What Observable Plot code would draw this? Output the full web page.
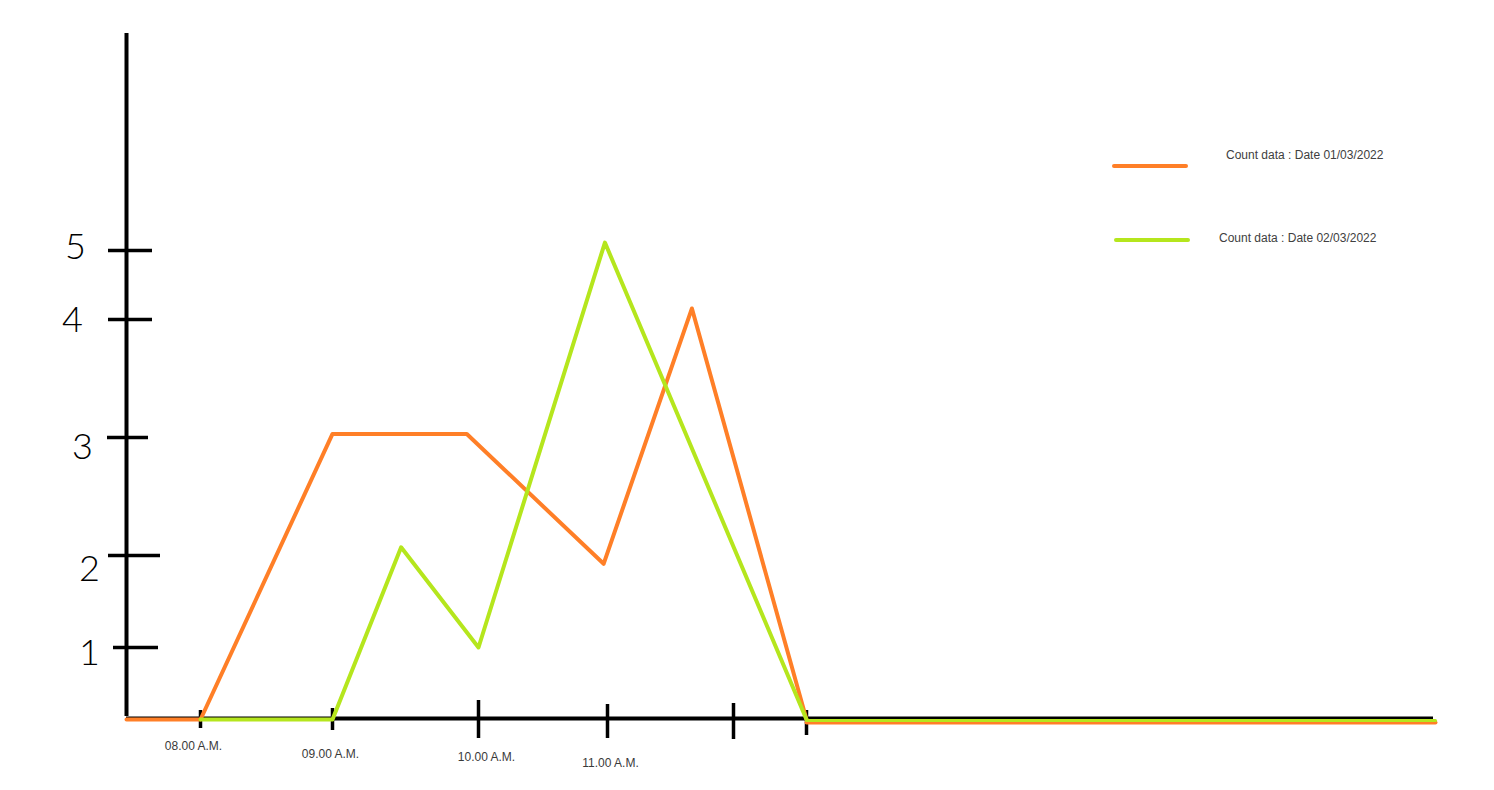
<!DOCTYPE html>
<html><head><meta charset="utf-8">
<script src="https://cdn.jsdelivr.net/npm/d3@7"></script>
<script src="https://cdn.jsdelivr.net/npm/@observablehq/plot@0.6"></script>
<style>
body{margin:0;background:#fff;overflow:hidden}
#wrap{position:relative;width:1494px;height:790px}
#chart svg{display:block}
.leg{position:absolute;font:12px "Liberation Sans",Arial,sans-serif;color:#404040;white-space:nowrap}
.sw{position:absolute;height:4px;border-radius:2px;width:76px}
</style></head><body>
<div id="wrap"><div id="chart"></div><div id="legend"></div></div>
<script>
// ---- data ----
const seriesNames = ["Count data : Date 01/03/2022", "Count data : Date 02/03/2022"];
const seriesColors = ["#ff7f27", "#b5e61d"];
const orangeHours  = [7.5, 8, 9, 9.92, 10.97, 11.67, 13];
const orangeCounts = [0, 0, 3.03, 3.03, 1.91, 4.16, 0];
const greenHours   = [8, 9, 9.47, 10, 10.98, 13];
const greenCounts  = [0, 0, 2.07, 1, 5.11, 0];
const tailHours    = [13, 18];
const tailCounts   = [0, 0];
const yTicks = [1, 2, 3, 4, 5];
const xTicks = [8, 9, 10, 11, 12, 13];
const xTickLabels = ["08.00 A.M.", "09.00 A.M.", "10.00 A.M.", "11.00 A.M.", "", ""];
const xStart = 7.5, xEnd = 18, yTop = 8;

// ---- styles (hand-drawn offsets) ----
const xTickUp = [9, 11, 19, 15, 16, 9], xTickDown = [9, 11, 19, 19, 20, 16];
const xLabelDx = [-7, -2, 8, 3, 0, 0], xLabelDy = [27, 35, 38, 44, 0, 0];
const yTickL = [13, 18, 19, 18, 18], yTickR = [32, 34, 22, 26, 26];
const yLabelDx = [-37, -37, -44, -54, -51], yLabelDy = [6, 14, 10, 1, -3];

const orange = orangeHours.map((h, i) => ({h, c: orangeCounts[i]}));
const green = greenHours.map((h, i) => ({h, c: greenCounts[i]}));
const tail = tailHours.map((h, i) => ({h, c: tailCounts[i]}));

const marks = [
  // y axis line
  Plot.ruleX([xStart], {x: d => d, y1: 0, y2: yTop, stroke: "#000", strokeWidth: 4, insetTop: -3}),
  // y ticks
  ...yTicks.map((t, i) => Plot.ruleY([t], {y: d => d, x1: xStart, x2: xStart, insetLeft: -yTickL[i], insetRight: -yTickR[i], stroke: "#000", strokeWidth: 3.5})),
  // y labels
  ...yTicks.map((t, i) => Plot.text([t], {x: xStart, y: d => d, text: d => String(d), dx: yLabelDx[i], dy: yLabelDy[i], fontSize: 36, fontWeight: 300, fontFamily: "Lato, 'DejaVu Sans', sans-serif", fill: "#000", textAnchor: "middle"})),
  // x axis line
  Plot.ruleY([0], {y: d => d, x1: xStart, x2: xEnd, stroke: "#000", strokeWidth: 4, dy: -1, insetRight: 2}),
  // x ticks
  ...xTicks.map((t, i) => Plot.ruleX([t], {x: d => d, y1: 0, y2: 0, insetTop: xTickDown[i], insetBottom: xTickUp[i], stroke: "#000", strokeWidth: 3.5})),
  // x labels
  ...xTicks.map((t, i) => Plot.text([t], {x: d => d, y: 0, text: () => xTickLabels[i], dx: xLabelDx[i], dy: xLabelDy[i], fontSize: 12, fontFamily: "'Liberation Sans', Arial, sans-serif", fill: "#3a3a3a", letterSpacing: "-0.4px"})),
  // series
  Plot.line(orange, {x: "h", y: "c", stroke: seriesColors[0], strokeWidth: 4, strokeLinejoin: "round"}),
  Plot.line(tail, {x: "h", y: "c", stroke: seriesColors[0], strokeWidth: 4, dy: 3, insetRight: -2}),
  Plot.line(green, {x: "h", y: "c", stroke: seriesColors[1], strokeWidth: 4, strokeLinejoin: "round"}),
  Plot.line(tail, {x: "h", y: "c", stroke: seriesColors[1], strokeWidth: 3, dy: 1})
];

const chart = Plot.plot({
  width: 1494,
  height: 790,
  margin: 0,
  x: {type: "linear", domain: [xStart, 8, 9, 10, 11, 12, 13, xEnd], range: [126, 200, 332, 478, 607, 733, 806, 1435], axis: null},
  y: {type: "linear", domain: [0, 1, 2, 3, 4, 5, yTop], range: [719, 647, 555, 437, 319, 250, 33], axis: null},
  marks
});
document.getElementById("chart").appendChild(chart);

// legend
const leg = document.getElementById("legend");
const legPos = [{sx: 1112, sy: 164, tx: 1226, ty: 148}, {sx: 1114, sy: 238, tx: 1219, ty: 231}];
seriesNames.forEach((name, i) => {
  const sw = document.createElement("div");
  sw.className = "sw";
  sw.style.left = legPos[i].sx + "px"; sw.style.top = legPos[i].sy + "px";
  sw.style.background = seriesColors[i];
  leg.appendChild(sw);
  const t = document.createElement("div");
  t.className = "leg";
  t.style.left = legPos[i].tx + "px"; t.style.top = legPos[i].ty + "px";
  t.textContent = name;
  leg.appendChild(t);
});
</script>
</body></html>
